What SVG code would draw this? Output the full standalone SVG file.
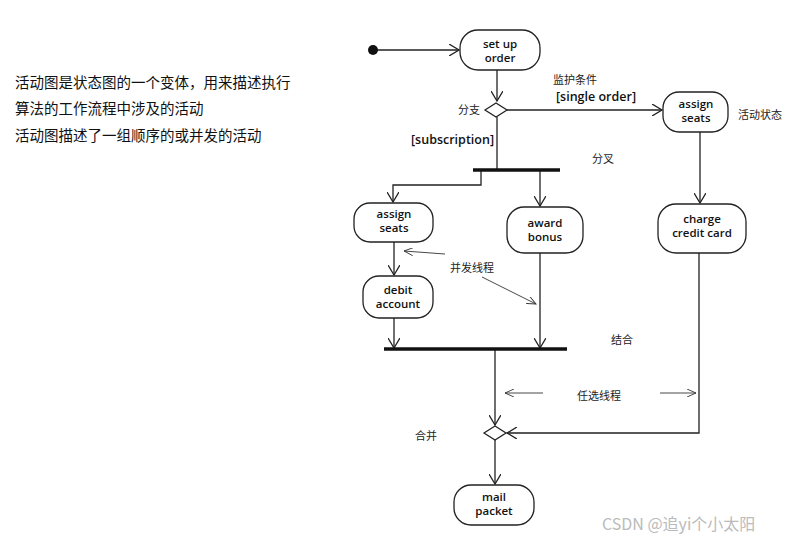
<svg xmlns="http://www.w3.org/2000/svg" width="799" height="546" viewBox="0 0 799 546">
<style>
.n{fill:#fff;stroke:#222;stroke-width:1.3}
.t{font-family:"Open Sans","Liberation Sans",sans-serif;font-size:11.5px;font-weight:600;text-anchor:middle;fill:#111}
.c{font-family:"Noto Sans CJK SC",sans-serif;font-size:11px;fill:#222}
.g{font-family:"Open Sans","Liberation Sans",sans-serif;font-size:12.5px;font-weight:600;fill:#111}
.l{fill:none;stroke:#222;stroke-width:1.3}
.s{fill:none;stroke:#333;stroke-width:0.9}
.b{stroke:#111;stroke-width:3.5}
.m{font-family:"Noto Sans CJK SC",sans-serif;font-size:14.5px;fill:#111}
</style>
<defs>
<marker id="a" markerWidth="12" markerHeight="12" refX="10" refY="6" orient="auto" markerUnits="userSpaceOnUse"><path d="M0,0 L10,6 L0,12" fill="none" stroke="#222" stroke-width="1.3"/></marker>
<marker id="sa" markerWidth="10" markerHeight="8" refX="9" refY="4" orient="auto" markerUnits="userSpaceOnUse"><path d="M0,0 L9,4 L0,8" fill="none" stroke="#333" stroke-width="0.9"/></marker>
</defs>
<rect width="799" height="546" fill="#fff"/>
<text class="m" x="15" y="88">活动图是状态图的一个变体，用来描述执行</text>
<text class="m" x="15" y="114">算法的工作流程中涉及的活动</text>
<text class="m" x="15" y="141">活动图描述了一组顺序的或并发的活动</text>
<g id="connectors">
<line class="l" x1="373" y1="50" x2="459" y2="50" marker-end="url(#a)"/>
<line class="l" x1="497" y1="70" x2="497" y2="101" marker-end="url(#a)"/>
<line class="l" x1="507" y1="110" x2="662" y2="110" marker-end="url(#a)"/>
<line class="l" x1="497" y1="117" x2="497" y2="170"/>
<polyline class="l" points="481,170 481,185 393,185 393,202" marker-end="url(#a)"/>
<line class="l" x1="540" y1="170" x2="540" y2="206" marker-end="url(#a)"/>
<line class="l" x1="700" y1="132" x2="700" y2="203" marker-end="url(#a)"/>
<line class="l" x1="394" y1="242" x2="394" y2="275" marker-end="url(#a)"/>
<line class="l" x1="394" y1="318" x2="394" y2="348" marker-end="url(#a)"/>
<line class="l" x1="540" y1="253" x2="540" y2="348" marker-end="url(#a)"/>
<line class="l" x1="495" y1="349" x2="495" y2="425" marker-end="url(#a)"/>
<polyline class="l" points="699,253 699,433 507,433" marker-end="url(#a)"/>
<line class="l" x1="495" y1="440" x2="495" y2="484" marker-end="url(#a)"/>
<line class="s" x1="445" y1="254" x2="404" y2="251" marker-end="url(#sa)"/>
<line class="s" x1="482" y1="277" x2="536" y2="304" marker-end="url(#sa)"/>
<line class="s" x1="543" y1="393" x2="505" y2="393" marker-end="url(#sa)"/>
<line class="s" x1="660" y1="393" x2="696" y2="393" marker-end="url(#sa)"/>
</g>
<g id="start"><circle cx="373" cy="50" r="5" fill="#111"/></g>
<g id="setup"><rect class="n" x="460" y="30" width="80" height="40" rx="18"/><text class="t" x="500" y="48">set up</text><text class="t" x="500" y="62">order</text></g>
<g id="branch"><polygon class="n" points="485,110 496,103 507,110 496,117"/></g>
<g id="assign1"><rect class="n" x="663" y="92" width="65" height="40" rx="16"/><text class="t" x="696" y="108">assign</text><text class="t" x="696" y="122">seats</text></g>
<g id="fork"><line class="b" x1="473" y1="170" x2="560" y2="170"/></g>
<g id="assign2"><rect class="n" x="354" y="203" width="79" height="39" rx="16"/><text class="t" x="394" y="218">assign</text><text class="t" x="394" y="232">seats</text></g>
<g id="award"><rect class="n" x="507" y="207" width="76" height="46" rx="17"/><text class="t" x="545" y="227">award</text><text class="t" x="545" y="241">bonus</text></g>
<g id="charge"><rect class="n" x="658" y="204" width="88" height="49" rx="18"/><text class="t" x="702" y="223">charge</text><text class="t" x="702" y="237">credit card</text></g>
<g id="debit"><rect class="n" x="363" y="276" width="70" height="42" rx="16"/><text class="t" x="398" y="294">debit</text><text class="t" x="398" y="308">account</text></g>
<g id="join"><line class="b" x1="384" y1="349" x2="567" y2="349"/></g>
<g id="merge"><polygon class="n" points="484,433 495,426 506,433 495,440"/></g>
<g id="mail"><rect class="n" x="454" y="485" width="80" height="40" rx="17"/><text class="t" x="494" y="501">mail</text><text class="t" x="494" y="515">packet</text></g>
<g id="labels">
<text class="c" x="553" y="84">监护条件</text>
<text class="g" x="556" y="101">[single order]</text>
<text class="c" x="458" y="114">分支</text>
<text class="c" x="738" y="119">活动状态</text>
<text class="g" x="411" y="144">[subscription]</text>
<text class="c" x="592" y="163">分叉</text>
<text class="c" x="450" y="272">并发线程</text>
<text class="c" x="611" y="344">结合</text>
<text class="c" x="577" y="400">任选线程</text>
<text class="c" x="415" y="440">合并</text>
</g>
<text x="602" y="530" font-family="Noto Sans CJK SC,sans-serif" font-size="16" fill="#bbb">CSDN @追yi个小太阳</text>
</svg>
